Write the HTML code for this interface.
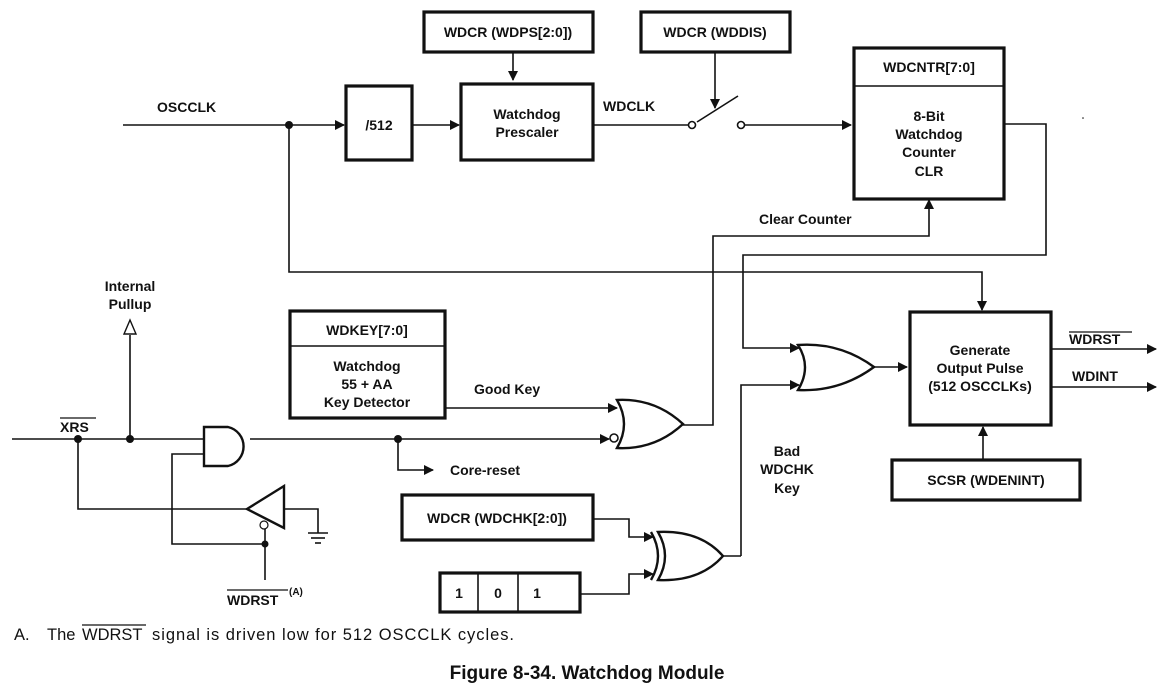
<!DOCTYPE html>
<html><head><meta charset="utf-8"><style>
html,body{margin:0;padding:0;background:#fff;}
svg{display:block;}
text{font-family:"Liberation Sans",Arial,sans-serif;font-weight:bold;font-size:14px;fill:#111;}
.n{font-weight:normal;font-size:16.5px;}
</style></head><body>
<svg width="1174" height="699" viewBox="0 0 1174 699" xmlns="http://www.w3.org/2000/svg">
<defs>
<marker id="a" markerWidth="10" markerHeight="10" refX="9" refY="5" orient="auto" markerUnits="userSpaceOnUse">
<path d="M0,0 L10,5 L0,10 z" fill="#111"/></marker>
</defs>
<g fill="none" stroke="#111" stroke-width="1.6">
<line x1="123" y1="125" x2="344" y2="125" marker-end="url(#a)"/>
<line x1="412" y1="125" x2="459" y2="125" marker-end="url(#a)"/>
<line x1="513" y1="52" x2="513" y2="80" marker-end="url(#a)"/>
<line x1="593" y1="125" x2="689" y2="125"/>
<circle cx="692" cy="125" r="3.5" fill="#fff"/>
<line x1="697" y1="122" x2="738" y2="96"/>
<circle cx="741" cy="125" r="3.5" fill="#fff"/>
<line x1="745" y1="125" x2="851" y2="125" marker-end="url(#a)"/>
<line x1="715" y1="52" x2="715" y2="108" marker-end="url(#a)"/>
<polyline points="1004,124 1046,124 1046,255 743,255 743,348 799,348" marker-end="url(#a)"/>
<polyline points="683,425 713,425 713,236 929,236 929,200" marker-end="url(#a)"/>
<polyline points="289,125 289,272 982,272 982,310" marker-end="url(#a)"/>
<line x1="1051" y1="349" x2="1156" y2="349" marker-end="url(#a)"/>
<line x1="1051" y1="387" x2="1156" y2="387" marker-end="url(#a)"/>
<line x1="983" y1="460" x2="983" y2="427" marker-end="url(#a)"/>
<line x1="874" y1="367" x2="907" y2="367" marker-end="url(#a)"/>
<path d="M798,345 Q840,342 874,367 Q840,392 798,390 Q812,367 798,345 z" stroke-width="2.4"/>
<polyline points="741,556 741,385 799,385" marker-end="url(#a)"/>
<path d="M617,400 Q655,398 683,424 Q655,450 617,448 Q631,424 617,400 z" stroke-width="2.4"/>
<line x1="445" y1="408" x2="617" y2="408" marker-end="url(#a)"/>
<line x1="250" y1="439" x2="609" y2="439" marker-end="url(#a)"/>
<circle cx="614" cy="438" r="4" fill="#fff"/>
<path d="M658,532 Q700,530 723,556 Q700,582 658,580 Q672,556 658,532 z" stroke-width="2.4"/>
<path d="M651,532 Q665,556 651,580" stroke-width="2.4"/>
<polyline points="593,519 629,519 629,537 653,537" marker-end="url(#a)"/>
<polyline points="580,594 629,594 629,574 653,574" marker-end="url(#a)"/>
<line x1="723" y1="556" x2="741" y2="556"/>
<line x1="12" y1="439" x2="204" y2="439"/>
<path d="M204,427 L228,427 A20,20 0 0 1 228,466 L204,466 z" stroke-width="2.4"/>
<line x1="130" y1="439" x2="130" y2="335"/>
<path d="M130,320 L136,334 L124,334 z" fill="#fff" stroke-width="1.4"/>
<polyline points="398,439 398,470 433,470" marker-end="url(#a)"/>
<polyline points="78,439 78,509 247,509"/>
<path d="M284,486 L284,528 L247,509 z" fill="#fff" stroke-width="2.4"/>
<polyline points="284,509 318,509 318,533"/>
<line x1="308" y1="533" x2="328" y2="533"/>
<line x1="311" y1="538" x2="325" y2="538"/>
<line x1="315" y1="543" x2="321" y2="543"/>
<polyline points="204,454 172,454 172,544 265,544"/>
<circle cx="264" cy="525" r="4" fill="#fff" stroke-width="1.2"/>
<line x1="265" y1="529" x2="265" y2="580"/>
<g stroke-width="3.2">
<rect x="346" y="86" width="66" height="74"/>
<rect x="461" y="84" width="132" height="76"/>
<rect x="424" y="12" width="169" height="40"/>
<rect x="641" y="12" width="149" height="40"/>
<rect x="854" y="48" width="150" height="151"/>
<rect x="910" y="312" width="141" height="113"/>
<rect x="892" y="460" width="188" height="40"/>
<rect x="290" y="311" width="155" height="107"/>
<rect x="402" y="495" width="191" height="45"/>
<rect x="440" y="573" width="140" height="39"/>
</g>
<line x1="854" y1="86" x2="1004" y2="86"/>
<line x1="290" y1="346" x2="445" y2="346"/>
<line x1="478" y1="573" x2="478" y2="612"/>
<line x1="518" y1="573" x2="518" y2="612"/>
<line x1="60" y1="418" x2="96" y2="418" stroke-width="1.2"/>
<line x1="1069" y1="332" x2="1132" y2="332" stroke-width="1.2"/>
<line x1="227" y1="590" x2="288" y2="590" stroke-width="1.2"/>
<line x1="82" y1="625" x2="146" y2="625" stroke-width="1.2"/>
</g>
<g fill="#111">
<circle cx="289" cy="125" r="4"/><circle cx="78" cy="439" r="4"/><circle cx="130" cy="439" r="4"/>
<circle cx="398" cy="439" r="4"/><circle cx="265" cy="544" r="3.5"/>
<circle cx="1083" cy="118" r="0.8"/>
</g>
<text x="157" y="112">OSCCLK</text>
<text x="379" y="130" text-anchor="middle">/512</text>
<text x="527" y="119" text-anchor="middle">Watchdog</text>
<text x="527" y="137" text-anchor="middle">Prescaler</text>
<text x="508" y="37" text-anchor="middle">WDCR (WDPS[2:0])</text>
<text x="715" y="37" text-anchor="middle">WDCR (WDDIS)</text>
<text x="603" y="111">WDCLK</text>
<text x="929" y="72" text-anchor="middle">WDCNTR[7:0]</text>
<text x="929" y="121" text-anchor="middle">8-Bit</text>
<text x="929" y="139" text-anchor="middle">Watchdog</text>
<text x="929" y="157" text-anchor="middle">Counter</text>
<text x="929" y="176" text-anchor="middle">CLR</text>
<text x="759" y="224">Clear Counter</text>
<text x="980" y="355" text-anchor="middle">Generate</text>
<text x="980" y="373" text-anchor="middle">Output Pulse</text>
<text x="980" y="391" text-anchor="middle">(512 OSCCLKs)</text>
<text x="1069" y="344">WDRST</text>
<text x="1072" y="381">WDINT</text>
<text x="986" y="485" text-anchor="middle">SCSR (WDENINT)</text>
<text x="367" y="335" text-anchor="middle">WDKEY[7:0]</text>
<text x="367" y="371" text-anchor="middle">Watchdog</text>
<text x="367" y="389" text-anchor="middle">55 + AA</text>
<text x="367" y="407" text-anchor="middle">Key Detector</text>
<text x="474" y="394">Good Key</text>
<text x="450" y="475">Core-reset</text>
<text x="787" y="456" text-anchor="middle">Bad</text>
<text x="787" y="474" text-anchor="middle">WDCHK</text>
<text x="787" y="493" text-anchor="middle">Key</text>
<text x="497" y="523" text-anchor="middle">WDCR (WDCHK[2:0])</text>
<text x="459" y="598" text-anchor="middle">1</text>
<text x="498" y="598" text-anchor="middle">0</text>
<text x="537" y="598" text-anchor="middle">1</text>
<text x="60" y="432">XRS</text>
<text x="130" y="291" text-anchor="middle">Internal</text>
<text x="130" y="309" text-anchor="middle">Pullup</text>
<text x="227" y="605">WDRST</text>
<text x="289" y="595" style="font-size:10px">(A)</text>
<text x="14" y="640" class="n">A.</text>
<text x="47" y="640" class="n">The</text>
<text x="82" y="640" class="n">WDRST</text>
<text x="152" y="640" class="n" textLength="362" lengthAdjust="spacing">signal is driven low for 512 OSCCLK cycles.</text>
<text x="587" y="679" text-anchor="middle" style="font-size:19px">Figure 8-34. Watchdog Module</text>
</svg>
</body></html>
